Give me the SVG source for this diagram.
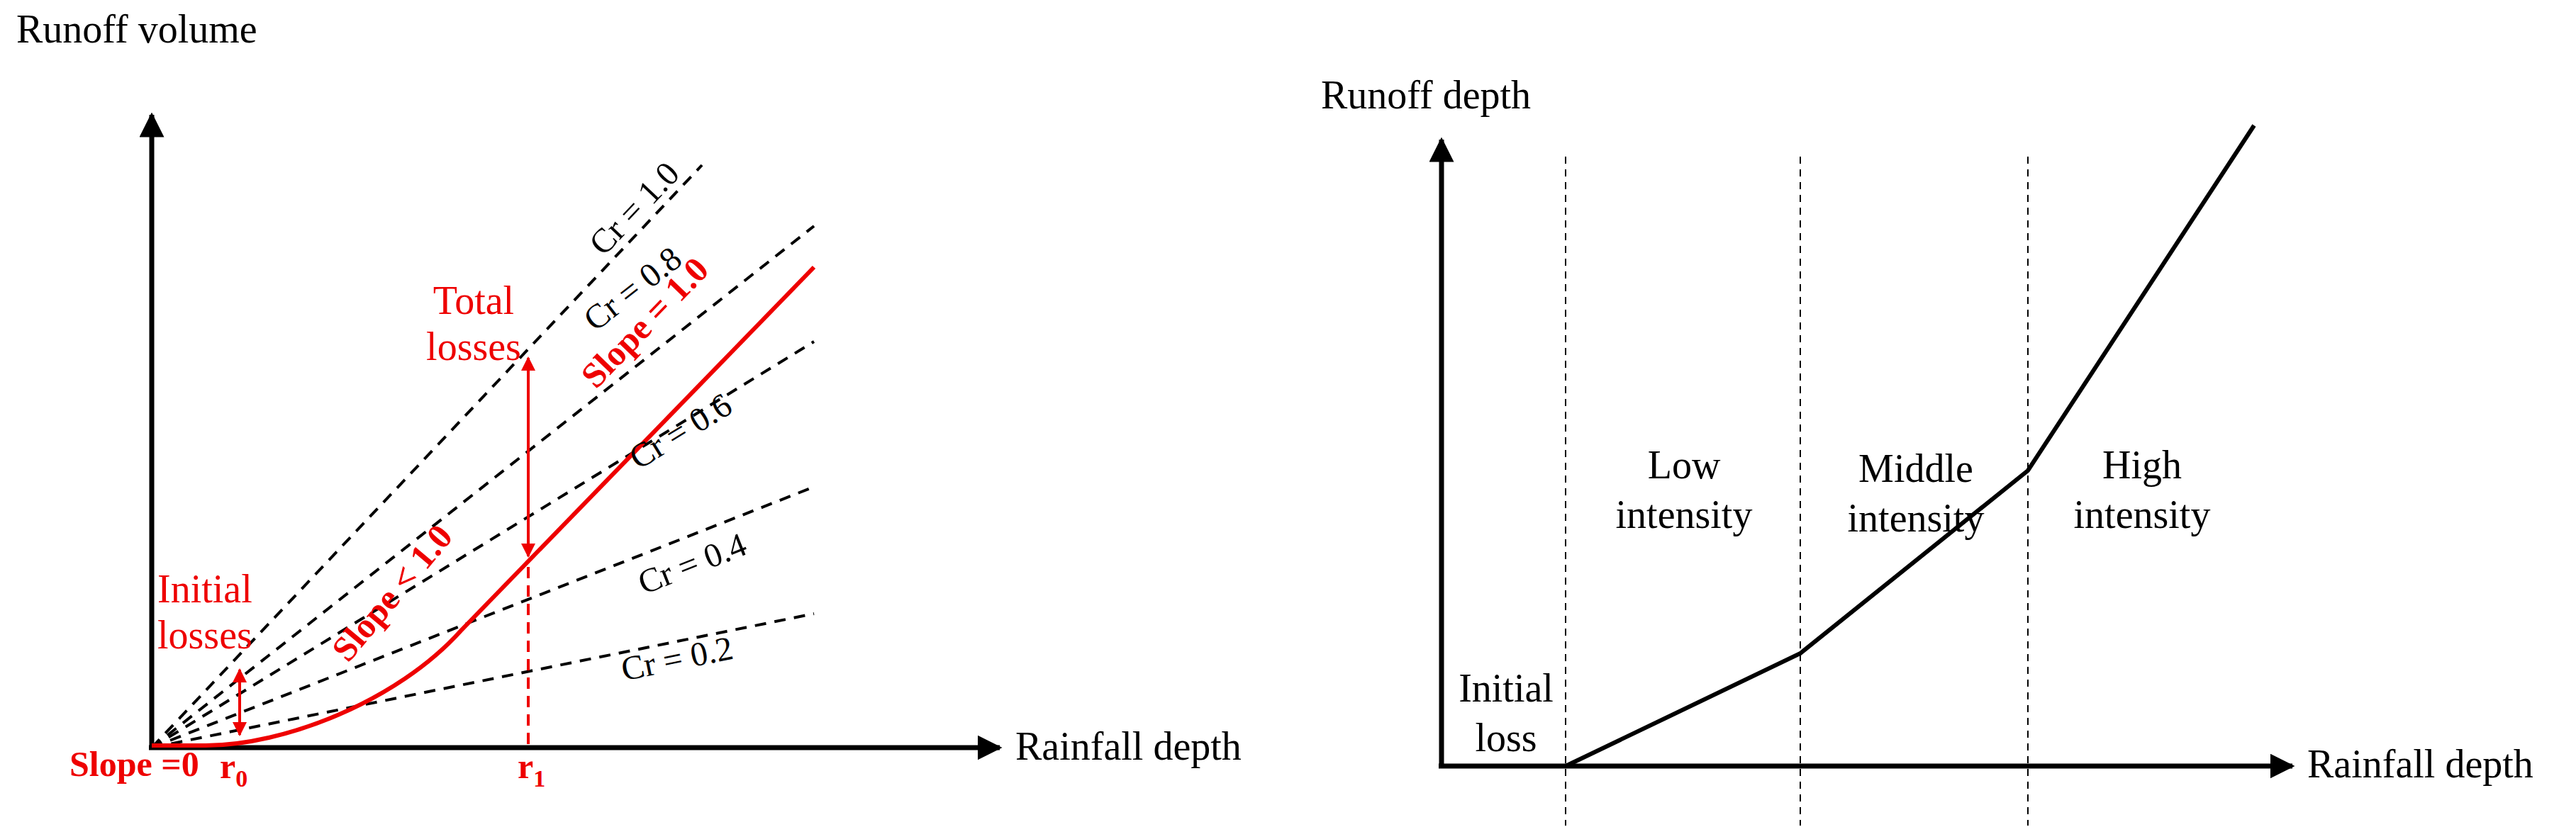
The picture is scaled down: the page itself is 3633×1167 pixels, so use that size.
<svg xmlns="http://www.w3.org/2000/svg" width="3633" height="1167" viewBox="0 0 3633 1167">
<defs>
<marker id="ak" viewBox="0 0 10 10" refX="9" refY="5" markerWidth="5" markerHeight="5" orient="auto"><path d="M0,0 L10,5 L0,10 z" fill="#000"/></marker>
<marker id="ar" viewBox="0 0 10 10" refX="9" refY="5" markerWidth="5" markerHeight="5" orient="auto-start-reverse"><path d="M0,0 L10,5 L0,10 z" fill="#e00"/></marker>
</defs>
<style>
text{font-family:"Liberation Serif",serif;font-size:56px;fill:#000}
.r{fill:#e00}
.b{font-weight:bold;fill:#e00;font-size:50px}
.c{font-size:48px}
.d{stroke:#000;stroke-width:4;stroke-dasharray:16 12;fill:none}
.v{stroke:#000;stroke-width:2;stroke-dasharray:10 8;fill:none}
.ax{stroke:#000;stroke-width:7;fill:none}
</style>
<rect width="3633" height="1167" fill="#fff"/>
<g id="connectors">
<line class="ax" x1="214" y1="1055" x2="214" y2="162" marker-end="url(#ak)"/>
<line class="ax" x1="210" y1="1055" x2="1410" y2="1055" marker-end="url(#ak)"/>
<line class="d" x1="214" y1="1055" x2="990" y2="233"/>
<line class="d" x1="214" y1="1055" x2="1148" y2="319"/>
<line class="d" x1="214" y1="1055" x2="1148" y2="482"/>
<line class="d" x1="214" y1="1055" x2="1148" y2="687"/>
<line class="d" x1="214" y1="1055" x2="1148" y2="866"/>
<path d="M214,1052 L290,1052 C400,1052 560,990 650,890 L1148,377" stroke="#e00" stroke-width="6" fill="none"/>
<line x1="745" y1="800" x2="745" y2="1055" stroke="#e00" stroke-width="4" stroke-dasharray="16 10"/>
<line x1="745" y1="505" x2="745" y2="785" stroke="#e00" stroke-width="4" marker-start="url(#ar)" marker-end="url(#ar)"/>
<line x1="338" y1="945" x2="338" y2="1037" stroke="#e00" stroke-width="4" marker-start="url(#ar)" marker-end="url(#ar)"/>
<line class="ax" x1="2033" y1="1081" x2="2033" y2="197" marker-end="url(#ak)"/>
<line class="ax" x1="2029" y1="1081" x2="3233" y2="1081" marker-end="url(#ak)"/>
<line class="v" x1="2208" y1="221" x2="2208" y2="1165"/>
<line class="v" x1="2539" y1="221" x2="2539" y2="1165"/>
<line class="v" x1="2860" y1="221" x2="2860" y2="1165"/>
<polyline points="2208,1081 2539,922 2860,664 3179,177" stroke="#000" stroke-width="6" fill="none"/>
</g>
<g id="left-labels">
<text x="23" y="60">Runoff volume</text>
<text x="1432" y="1072">Rainfall depth</text>
<text class="b" x="98" y="1095">Slope =0</text>
<text class="b" x="310" y="1098">r<tspan font-size="34" dy="12">0</tspan></text>
<text class="b" x="730" y="1098">r<tspan font-size="34" dy="12">1</tspan></text>
<text class="r" x="668" y="443" text-anchor="middle">Total</text>
<text class="r" x="668" y="508" text-anchor="middle">losses</text>
<text class="r" x="222" y="850">Initial</text>
<text class="r" x="222" y="915">losses</text>
<text class="b" transform="translate(930,475) rotate(-46)" text-anchor="middle" dy="-12">Slope = 1.0</text>
<text class="b" transform="translate(575,855) rotate(-50)" text-anchor="middle" dy="-12">Slope &lt; 1.0</text>
<text class="c" transform="translate(906,305) rotate(-46.6)" text-anchor="middle">Cr = 1.0</text>
<text class="c" transform="translate(902,420) rotate(-38)" text-anchor="middle">Cr = 0.8</text>
<text class="c" transform="translate(968,622) rotate(-31.5)" text-anchor="middle">Cr = 0.6</text>
<text class="c" transform="translate(982,810) rotate(-21.5)" text-anchor="middle">Cr = 0.4</text>
<text class="c" transform="translate(958,945) rotate(-11.5)" text-anchor="middle">Cr = 0.2</text>
</g>
<g id="right-labels">
<text x="1863" y="153">Runoff depth</text>
<text x="3254" y="1097">Rainfall depth</text>
<text x="2375" y="675" text-anchor="middle">Low</text>
<text x="2375" y="745" text-anchor="middle">intensity</text>
<text x="2702" y="680" text-anchor="middle">Middle</text>
<text x="2702" y="750" text-anchor="middle">intensity</text>
<text x="3021" y="675" text-anchor="middle">High</text>
<text x="3021" y="745" text-anchor="middle">intensity</text>
<text x="2124" y="990" text-anchor="middle">Initial</text>
<text x="2124" y="1060" text-anchor="middle">loss</text>
</g>
</svg>
